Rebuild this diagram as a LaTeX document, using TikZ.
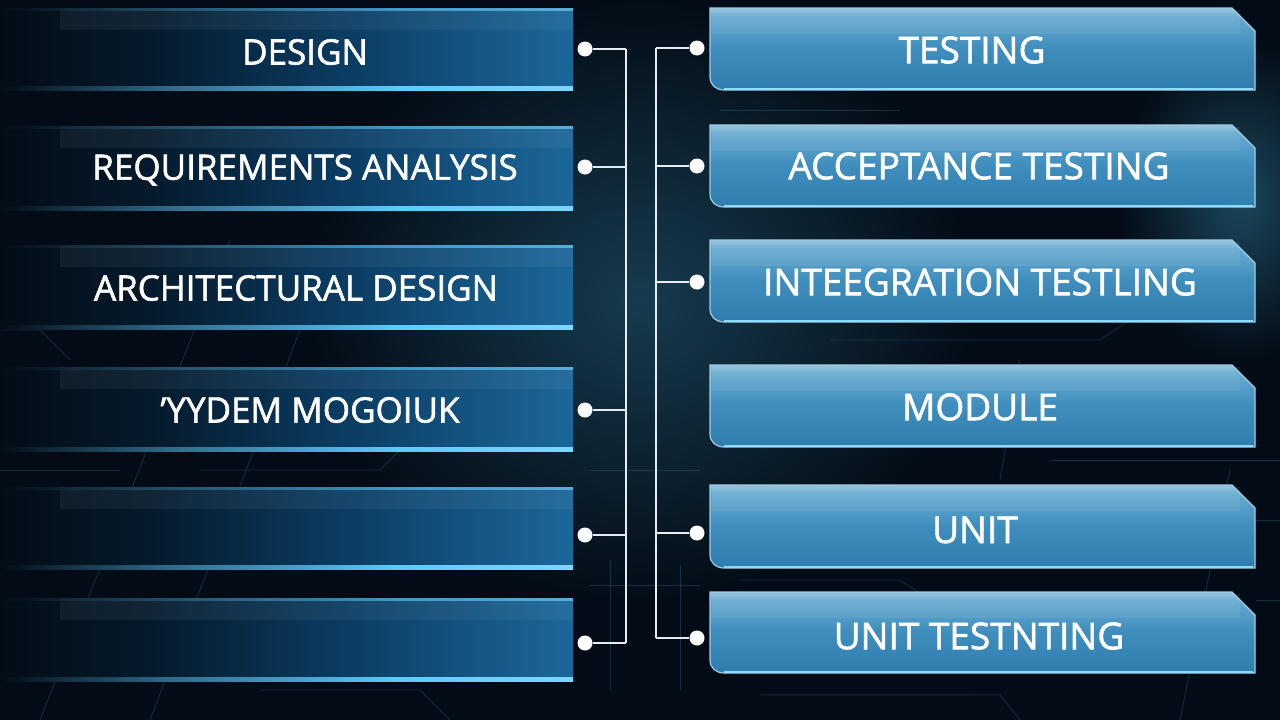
\documentclass[tikz,border=0pt]{standalone}
\usepackage{fontspec}
\setmainfont{Open Sans}
\newfontfamily\labfont[FakeBold=1.6]{Open Sans}
\definecolor{bgc}{HTML}{030C16}
\definecolor{lbA}{HTML}{051A2C}
\definecolor{lbB}{HTML}{0B3C62}
\definecolor{lbC}{HTML}{1B679A}
\definecolor{rbT}{HTML}{66AAD0}
\definecolor{rbM}{HTML}{3E8DBD}
\definecolor{rbB}{HTML}{2F7DAE}
\definecolor{glow}{HTML}{5CCBFF}
\definecolor{wire}{HTML}{E4ECF1}
\definecolor{trace}{HTML}{2F7594}
\pgfdeclarehorizontalshading{leftbar}{100bp}{color(0bp)=(bgc); color(25bp)=(bgc); color(38bp)=(lbA); color(55bp)=(lbB); color(75bp)=(lbC); color(100bp)=(lbC)}
\pgfdeclarehorizontalshading{glowline}{100bp}{color(0bp)=(bgc); color(25bp)=(bgc); color(40bp)=(glow!50!bgc); color(60bp)=(glow); color(75bp)=(glow!80!white); color(100bp)=(glow)}
\pgfdeclareverticalshading{rightbar}{100bp}{color(0bp)=(rbB); color(25bp)=(rbB); color(50bp)=(rbM); color(70bp)=(rbT); color(75bp)=(rbT!70!white); color(100bp)=(rbT)}
\tikzset{
  lbar/.style={shading=leftbar},
  ltext/.style={text=white, font=\labfont\fontsize{35}{40}\selectfont, inner sep=0pt},
  rtext/.style={text=white, font=\labfont\fontsize{37}{42}\selectfont, inner sep=0pt},
  dotn/.style={circle, fill=white, inner sep=0pt, minimum size=15pt},
  wireln/.style={draw=wire, line width=2pt},
  tr/.style={draw=trace, line width=0.8pt, opacity=0.35}
}
\newcommand{\rbarshape}[2]{%
  (710,#1) -- (1232,#1) -- (1255,#1+23) -- (1255,#2) -- (724,#2)
  .. controls (716,#2) and (710,#2-5) .. (710,#2-13) -- cycle}
\begin{document}
\begin{tikzpicture}[x=1pt,y=-1pt]
\useasboundingbox (0,0) rectangle (1280,720);
\fill[bgc] (0,0) rectangle (1280,720);
% background glows
\shade[inner color=trace!45!bgc, outer color=bgc] (640,300) ellipse (330 and 300);
\shade[inner color=trace!55!bgc, outer color=bgc] (1240,200) ellipse (120 and 160);
% faint circuit traces
\draw[tr] (40,720) -- (230,240);
\draw[tr] (150,720) -- (300,330);
\draw[tr] (0,300) -- (60,300) -- (90,260) -- (200,260);
\draw[tr] (0,470) -- (120,470);
\draw[tr] (0,330) -- (40,330) -- (70,360);
\draw[tr] (200,470) -- (380,470) -- (410,440);
\draw[tr] (260,690) -- (420,690) -- (450,720);
\draw[tr] (740,580) -- (900,580) -- (930,600);
\draw[tr] (720,110) -- (900,110);
\draw[tr] (830,340) -- (1100,340) -- (1130,320);
\draw[tr] (1050,460) -- (1280,460);
\draw[tr] (760,695) -- (1000,695) -- (1020,720);
\draw[tr] (1180,720) -- (1230,470);
\draw[tr] (1256,520) -- (1280,520);
\draw[tr] (1256,600) -- (1280,600);
\draw[tr] (1000,480) -- (1020,360);
\draw[tr] (590,470) -- (700,470);
\draw[tr] (590,585) -- (700,585);
\draw[tr] (610,560) -- (610,690);
\draw[tr] (680,565) -- (680,690);

% left bars
\foreach \t/\b in {8/89, 126/209, 245/328, 367/450, 487/568, 598/680}{
  \shade[lbar] (0,\t) rectangle (573,\b);
  \fill[white, opacity=0.05] (60,\t) rectangle (573,\t+22);
  \shade[shading=glowline] (0,\b-3) rectangle (573,\b+1);
  \shade[shading=glowline, opacity=0.6] (0,\t) rectangle (573,\t+2);
}
\node[ltext] (l1) at (305,52) {DESIGN};
\node[ltext] (l2) at (305,170) {REQUIREMENTS ANALYSIS};
\node[ltext] (l3) at (296,288) {ARCHITECTURAL DESIGN};
\node[ltext] (l4) at (310,410) {ʼYYDEM MOGOIUK};

% right bars
\foreach \t/\b in {8/90, 125/207, 240/322, 365/447, 485/568, 592/673}{
  \shade[shading=rightbar] \rbarshape{\t}{\b};
  \fill[white, opacity=0.07] (712,\t+2) rectangle (1240,\t+26);
  \draw[rbT!60!white, line width=1.2pt] \rbarshape{\t}{\b};
  \draw[glow!70!white, line width=2pt] (724,\b-1) -- (1253,\b-1);
}
\node[rtext] (r1) at (972,50) {TESTING};
\node[rtext] (r2) at (979,166) {ACCEPTANCE TESTING};
\node[rtext] (r3) at (980,282) {INTEEGRATION TESTLING};
\node[rtext] (r4) at (980,407) {MODULE};
\node[rtext] (r5) at (975,530) {UNIT};
\node[rtext] (r6) at (979,636) {UNIT TESTNTING};

% left connector tree
\foreach \i/\y in {1/49, 2/167, 3/410, 4/535, 5/643}{
  \coordinate (jl\i) at (626,\y);
  \node[dotn] (dl\i) at (585,\y) {};
  \draw[wireln] (dl\i) -- (jl\i);
}
\draw[wireln] (jl1) -- (jl5);
% right connector tree
\foreach \i/\y in {1/48, 2/166, 3/282, 4/533, 5/638}{
  \coordinate (jr\i) at (656,\y);
  \node[dotn] (dr\i) at (697,\y) {};
  \draw[wireln] (jr\i) -- (dr\i);
}
\draw[wireln] (jr1) -- (jr5);
\end{tikzpicture}
\end{document}
